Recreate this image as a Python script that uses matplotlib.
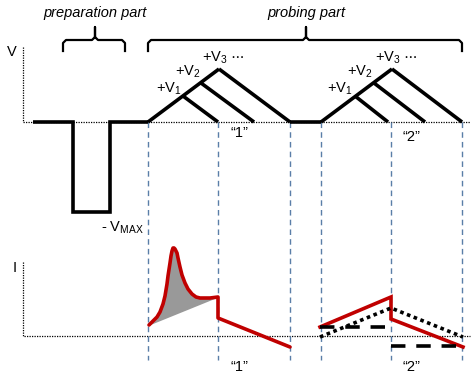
import numpy as np
import matplotlib.pyplot as plt

plt.rcParams['font.family'] = ['Liberation Sans', 'DejaVu Sans']
plt.rcParams['mathtext.fontset'] = 'custom'
plt.rcParams['mathtext.rm'] = 'Liberation Sans'
plt.rcParams['mathtext.it'] = 'Liberation Sans:italic'

# schematic coordinates (pixel units, y down)
base_v = 122
base_i = 336

prep_x = [33, 73, 73, 110, 110, 148]
prep_y = [122, 122, 212, 212, 122, 122]

ramp1_x = [148, 219]
ramp1_y = [122, 69]
falls1 = [((183, 96), (218, 122)), ((201, 83), (254, 122)), ((219, 69), (290, 122))]
flat_x = [290, 321]
flat_y = [122, 122]
ramp2_x = [321, 392]
ramp2_y = [122, 69]
falls2 = [((355, 96), (388, 122)), ((374, 83), (425, 122)), ((392, 69), (462, 122))]

guide_x = [148, 218, 290, 321, 391, 462]

# current, first probe (peak)
peak_x = [149, 153, 157, 160, 163, 165, 167, 168, 170, 171, 172, 173, 174, 175,
          177, 178, 180, 182, 185, 188, 192, 196, 200, 210, 218]
peak_y = [325, 321, 317, 312, 304, 296, 284, 276, 263, 256, 251, 248, 248, 249,
          253, 258, 267, 275, 283, 289, 294, 297, 298, 298, 297]
tail1_x = [218, 218, 290]
tail1_y = [297, 318, 347]

# current, second probe
red2_x = [320, 391, 391, 463]
red2_y = [327, 297, 319, 347]
dot2_x = [320, 391, 463]
dot2_y = [337, 308, 337]
dash2a_x = [320, 391]
dash2a_y = [327, 327]
dash2b_x = [391, 463]
dash2b_y = [346, 346]

fig = plt.figure(figsize=(4.74, 3.77), dpi=100)
ax = fig.add_axes([0, 0, 1, 1])
ax.set_xlim(0, 474)
ax.set_ylim(377, 0)
ax.axis('off')

lw = 2.6
blk = dict(color='black', lw=lw, solid_joinstyle='miter', solid_capstyle='butt')

# axes
ax.plot([23, 23, 470], [47, base_v, base_v], color='black', lw=0.9, ls=(0, (1, 1)))
ax.plot([23, 23, 470], [262, base_i, base_i], color='black', lw=0.9, ls=(0, (1, 1)))

# guides
for gx in guide_x:
    ax.plot([gx, gx], [base_v, 360], color='#5a7ea8', lw=1.0, ls=(0, (4, 3)))

# voltage
ax.plot(prep_x, prep_y, **blk)
ax.plot(ramp1_x, ramp1_y, **blk)
for (a, b) in falls1:
    ax.plot([a[0], b[0]], [a[1], b[1]], **blk)
ax.plot(flat_x, flat_y, **blk)
ax.plot(ramp2_x, ramp2_y, **blk)
for (a, b) in falls2:
    ax.plot([a[0], b[0]], [a[1], b[1]], **blk)

# current
px = np.array(peak_x)
py = np.array(peak_y)
chord = np.interp(px, [peak_x[0], peak_x[-1]], [peak_y[0], peak_y[-1]])
ax.fill_between(px, py, chord, color='#999999', lw=0)
ax.plot(peak_x + tail1_x[1:], peak_y + tail1_y[1:], color='#c00000', lw=lw,
        solid_joinstyle='round', solid_capstyle='round')
ax.plot(red2_x, red2_y, color='#c00000', lw=lw, solid_joinstyle='miter')
ax.plot(dot2_x, dot2_y, color='black', lw=2.6, ls=(0, (1, 1)))
ax.plot(dash2a_x, dash2a_y, color='black', lw=2.6, ls=(0, (4, 3)))
ax.plot(dash2b_x, dash2b_y, color='black', lw=2.6, ls=(0, (4, 3)))

# braces
def brace(x0, x1, xm):
    ax.plot([x0, x0, x0 + 3, xm - 3, xm, xm, xm, xm + 3, x1 - 3, x1, x1],
            [51, 43, 40, 40, 37, 27, 37, 40, 40, 43, 51],
            color='black', lw=1.6, solid_joinstyle='round')

brace(63, 125, 95)
brace(148, 462, 306)

fs = 10.5
ax.text(95, 13, 'preparation part', style='italic', fontsize=fs, ha='center', va='center')
ax.text(306, 13, 'probing part', style='italic', fontsize=fs, ha='center', va='center')
ax.text(12, 52, 'V', fontsize=fs, ha='center', va='center')
ax.text(15, 268, 'I', fontsize=fs, ha='center', va='center')
ax.text(101, 228, r'- V$_{\mathrm{MAX}}$', fontsize=fs, ha='left', va='center')

for xx, yy, s in [(156, 89, r'+V$_1$'), (175, 72, r'+V$_2$'), (202, 58, r'+V$_3$ $\cdots$'),
                  (327, 89, r'+V$_1$'), (347, 72, r'+V$_2$'), (375, 58, r'+V$_3$ $\cdots$')]:
    ax.text(xx, yy, s, fontsize=fs, ha='left', va='center')

ax.text(239, 133, '\u201c1\u201d', fontsize=fs, ha='center', va='center')
ax.text(411, 137, '\u201c2\u201d', fontsize=fs, ha='center', va='center')
ax.text(239, 367, '\u201c1\u201d', fontsize=fs, ha='center', va='center')
ax.text(411, 367, '\u201c2\u201d', fontsize=fs, ha='center', va='center')

fig.savefig('out.png', dpi=100)
